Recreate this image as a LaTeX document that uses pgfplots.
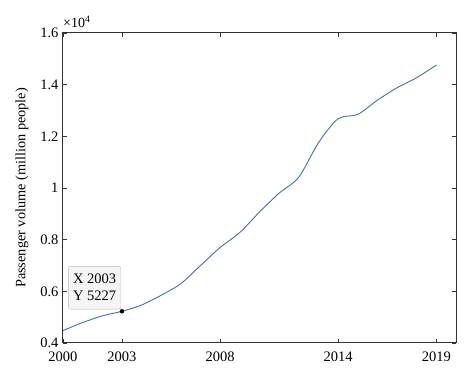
\documentclass[border=0pt]{standalone}
\usepackage{fontspec}
\setmainfont{Liberation Serif}
\usepackage{pgfplots}
\pgfplotsset{compat=1.18}
\definecolor{lineblue}{RGB}{62,112,182}
\begin{document}
\begin{tikzpicture}
\begin{axis}[
  scale only axis, width=393pt, height=310pt,
  xmin=2000, xmax=2020, ymin=4000, ymax=16000,
  scaled y ticks=false, scaled x ticks=false,
  xtick={2000,2003,2008,2014,2019},
  xticklabels={2000,2003,2008,2014,2019},
  ytick={4000,6000,8000,10000,12000,14000,16000},
  yticklabels={0.4,0.6,0.8,1,1.2,1.4,1.6},
  tick align=inside,
  major tick length=4pt,
  axis line style={line width=1pt, black!80},
  tick style={black!80, line width=0.8pt},
  ticklabel style={font=\fontsize{14.5}{16}\selectfont},
  xticklabel style={yshift=-5pt},
  yticklabel style={xshift=-1pt},
  ylabel={Passenger volume (million people)},
  every axis y label/.style={at={(rel axis cs:0,0.5)}, xshift=-41pt, rotate=90, anchor=center, font=\fontsize{14.3}{17}\selectfont},
  clip=false,
]
\addplot[lineblue, line width=0.9pt, smooth] coordinates {
(2000,4480) (2001,4790) (2002,5050) (2003,5227) (2004,5470) (2005,5850)
(2006,6300) (2007,7000) (2008,7700) (2009,8280) (2010,9070) (2011,9800)
(2012,10420) (2013,11750) (2014,12680) (2015,12850) (2016,13400)
(2017,13880) (2018,14270) (2019,14760)};
\addplot[only marks, mark=*, mark size=2pt, black] coordinates {(2003,5227)};
\node[anchor=south east, fill=gray!8, draw=gray!55, rounded corners=2pt,
  align=left, inner xsep=4.5pt, inner ysep=8pt,
  font=\fontsize{14.5}{17}\selectfont] at (axis cs:2003,5227) [xshift=-1pt, yshift=2pt] {X 2003\\Y 5227};
\node[anchor=south west, inner sep=0pt, font=\fontsize{14}{16}\selectfont] at (rel axis cs:0,1) [xshift=0pt, yshift=5pt] {×10\textsuperscript{4}};
\end{axis}
\pgfresetboundingbox
\path ([xshift=-63pt,yshift=-33pt]current axis.south west) rectangle ([xshift=18pt,yshift=33pt]current axis.north east);
\end{tikzpicture}
\end{document}
